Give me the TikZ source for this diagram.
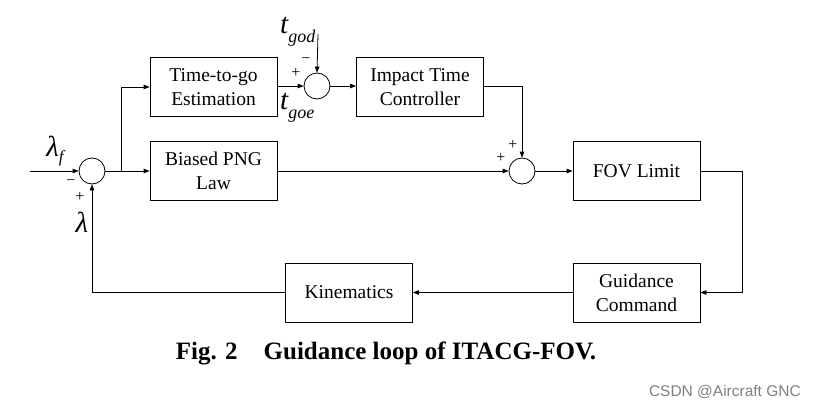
\documentclass[tikz,border=0pt]{standalone}
\usepackage{fontspec}
\setmainfont{Liberation Serif}
\newfontfamily\wmfont{Liberation Sans}
\usetikzlibrary{arrows.meta}
\begin{document}
\begin{tikzpicture}[x=1pt,y=-1pt,
  blk/.style={draw,line width=0.8pt,minimum width=127pt,minimum height=59pt,align=center,font=\fontsize{19.5}{24}\selectfont,inner sep=0pt},
  sumc/.style={draw,circle,line width=0.8pt,minimum size=26pt,inner sep=0pt},
  con/.style={line width=0.8pt,-{Triangle[length=6pt,width=4.5pt]}},
  lin/.style={line width=0.8pt},
  sgn/.style={font=\fontsize{16}{16}\selectfont,inner sep=0pt},
  var/.style={font=\fontsize{29}{29}\selectfont\itshape,inner sep=0pt}]
\useasboundingbox (0,0) rectangle (818,409);
\node[blk] (tgo) at (213.5,87) {Time-to-go\\Estimation};
\node[blk] (png) at (213.5,171) {Biased PNG\\Law};
\node[blk] (itc) at (420,87) {Impact Time\\Controller};
\node[blk] (fov) at (636.5,171) {FOV Limit};
\node[blk] (gc) at (636.5,292.5) {Guidance\\Command};
\node[blk] (kin) at (349,292.5) {Kinematics};
\node[sumc] (s1) at (92,171) {};
\node[sumc] (s2) at (317,86) {};
\node[sumc] (s3) at (522,171) {};
\coordinate (in) at (30,171);
\coordinate (br) at (121,171);
\coordinate (tgd) at (318,34);
\draw[con] (in) -- (s1.west);
\draw[lin] (s1.east) -- (br);
\draw[con] (br) -- (png.west);
\draw[con] (br) |- (tgo.west);
\draw[con] (tgo.east |- s2) -- (s2.west);
\draw[con] (tgd) -- (s2.north);
\draw[con] (s2.east) -- (itc.west |- s2);
\draw[con] (itc.east |- s2) -| (s3.north);
\draw[con] (png.east) -- (s3.west);
\draw[con] (s3.east) -- (fov.west);
\draw[con] (fov.east) -- ++(42,0) |- (gc.east);
\draw[con] (gc.west) -- (kin.east);
\draw[con] (kin.west) -| (s1.south);
% labels
\node[var] (lf) at (55,151) {λ\raisebox{-6pt}{\fontsize{17}{17}\selectfont\itshape f}};
\node[sgn] (m1) at (71,183) {−};
\node[sgn] (p1) at (80,197) {+};
\node[var] (lam) at (82,222) {λ};
\node[sgn] (m2) at (306,61) {−};
\node[sgn] (p2) at (296,73) {+};
\node[sgn] (p3) at (513,145) {+};
\node[sgn] (p4) at (501,158) {+};
\node[var,anchor=west] (tgdl) at (280,32) {t\raisebox{-9pt}{\fontsize{18}{18}\selectfont\itshape god}};
\node[var,anchor=west] (tgel) at (280,108) {t\raisebox{-9pt}{\fontsize{18}{18}\selectfont\itshape goe}};
\node[font=\fontsize{25}{28}\selectfont\bfseries,inner sep=0pt] (cap) at (386,353) {Fig. 2\hspace{26pt}Guidance loop of ITACG-FOV.};
\node[font=\fontsize{15.5}{18}\selectfont\wmfont,text=gray,inner sep=0pt,anchor=east] (wm) at (801,392) {CSDN @Aircraft GNC};
\end{tikzpicture}
\end{document}
